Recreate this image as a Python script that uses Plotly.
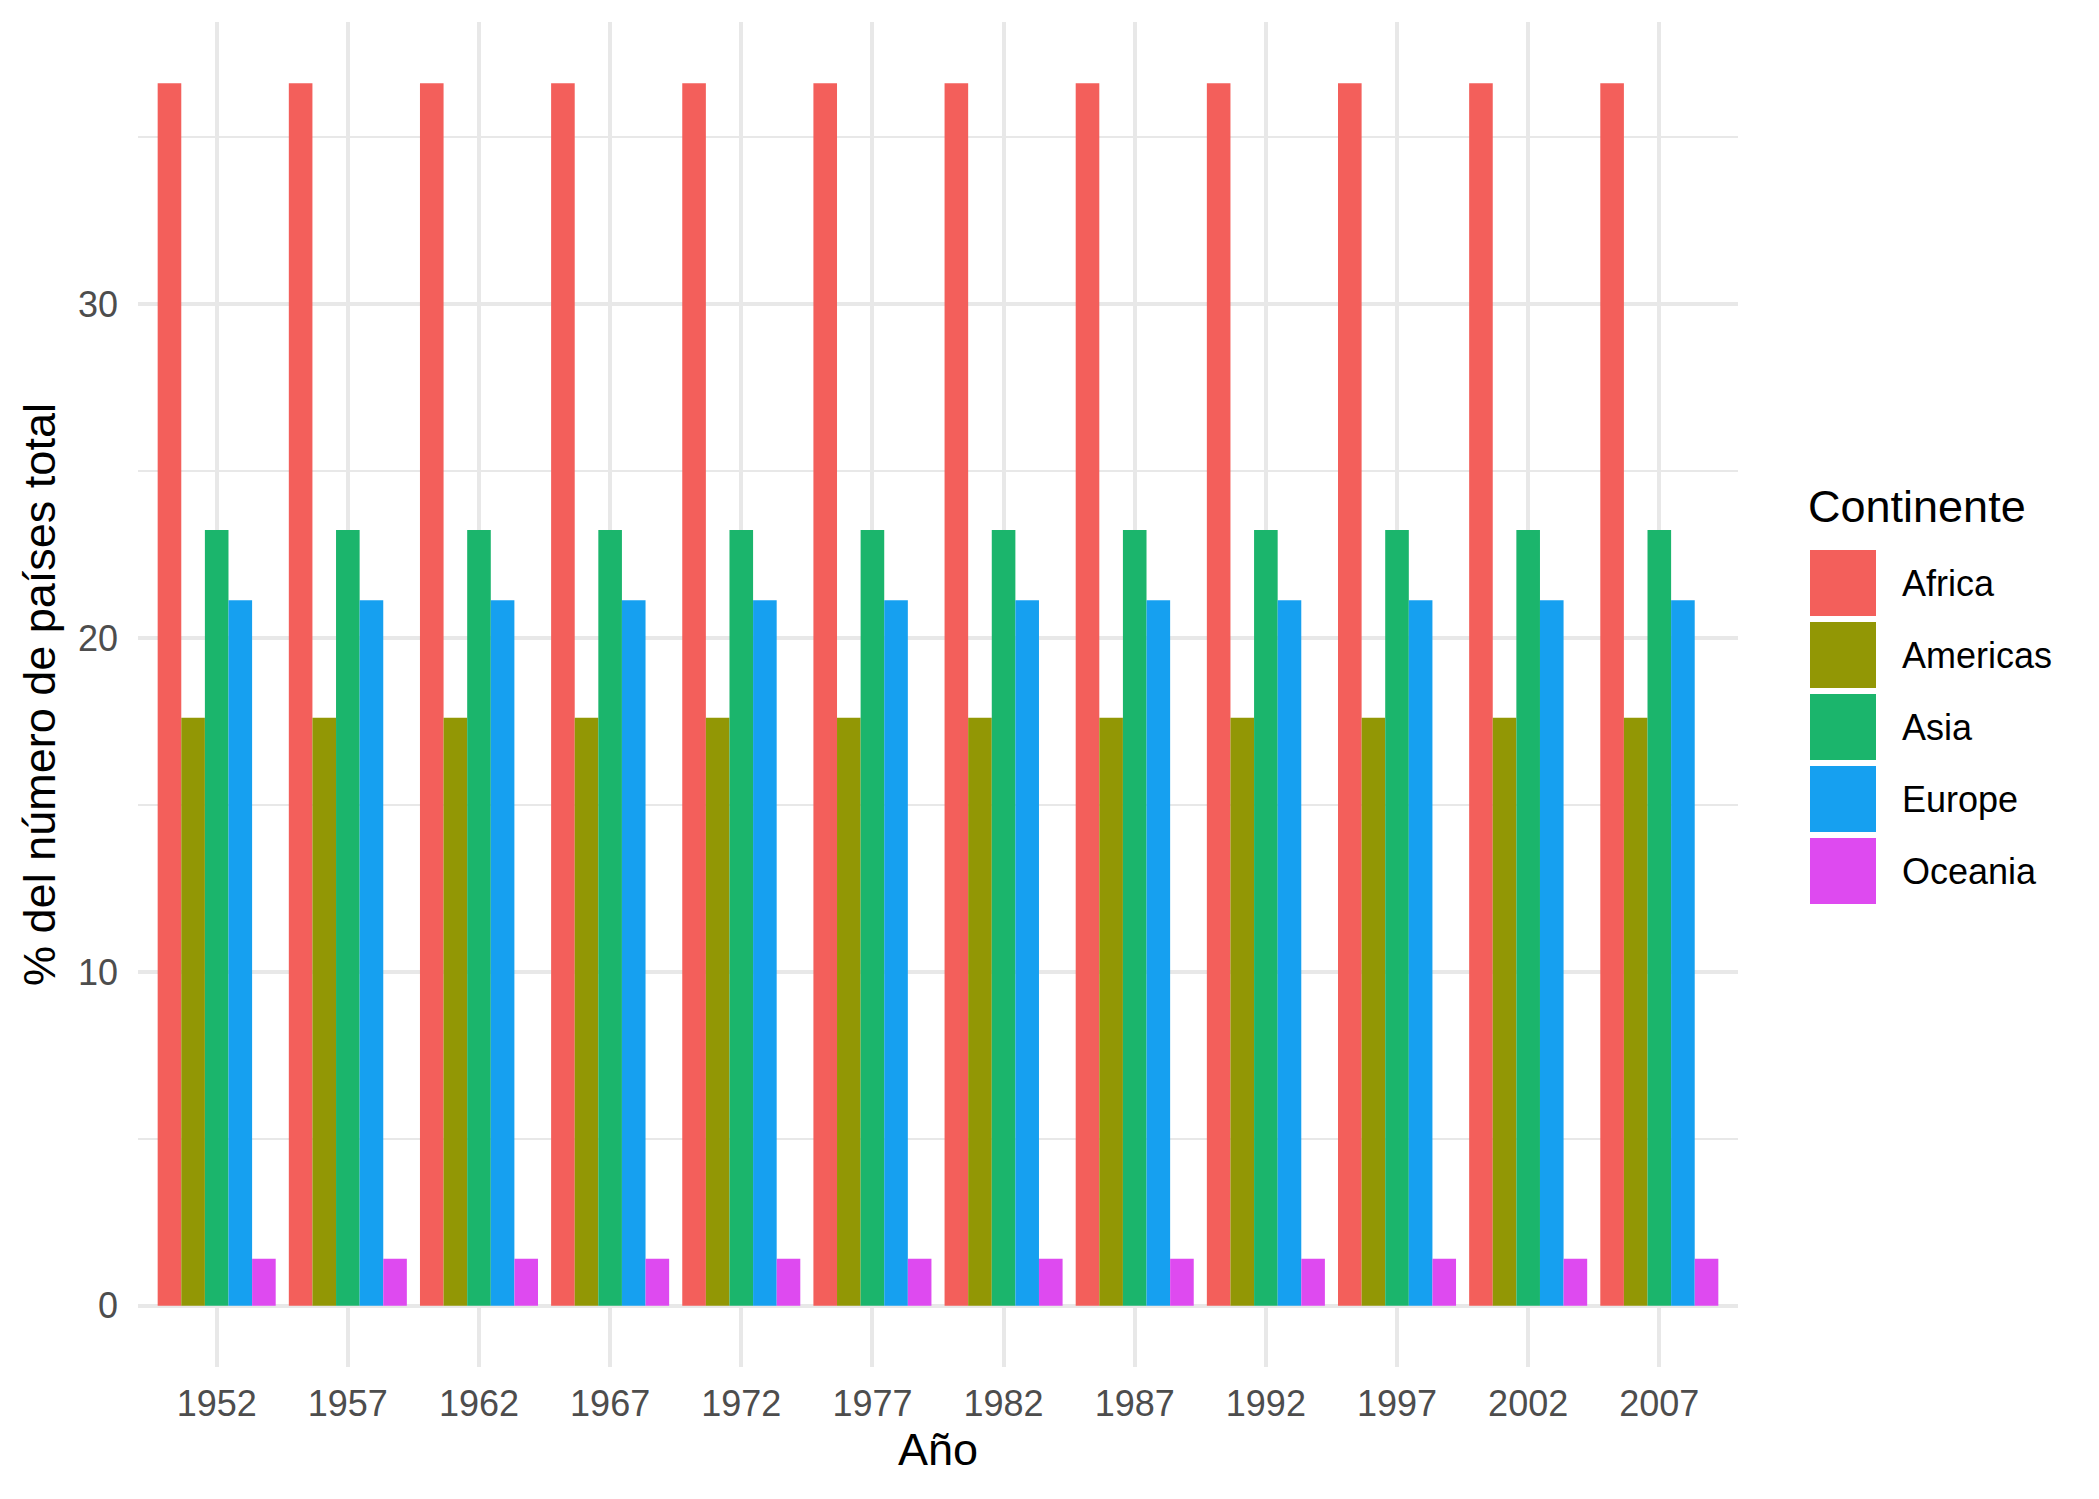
import plotly.graph_objects as go

# ---- data ----
years = ["1952", "1957", "1962", "1967", "1972", "1977", "1982", "1987", "1992", "1997", "2002", "2007"]
continents = ["Africa", "Americas", "Asia", "Europe", "Oceania"]
africa   = [36.62, 36.62, 36.62, 36.62, 36.62, 36.62, 36.62, 36.62, 36.62, 36.62, 36.62, 36.62]
americas = [17.61, 17.61, 17.61, 17.61, 17.61, 17.61, 17.61, 17.61, 17.61, 17.61, 17.61, 17.61]
asia     = [23.24, 23.24, 23.24, 23.24, 23.24, 23.24, 23.24, 23.24, 23.24, 23.24, 23.24, 23.24]
europe   = [21.13, 21.13, 21.13, 21.13, 21.13, 21.13, 21.13, 21.13, 21.13, 21.13, 21.13, 21.13]
oceania  = [1.41, 1.41, 1.41, 1.41, 1.41, 1.41, 1.41, 1.41, 1.41, 1.41, 1.41, 1.41]
series = [africa, americas, asia, europe, oceania]
y_ticks = [0, 10, 20, 30]

colors = ["#F35F5B", "#929705", "#1BB56C", "#16A0F0", "#DE4AF0"]
FONT = "Liberation Sans, Arial, Helvetica, sans-serif"
GRID = "#E8E8E8"

# ---- geometry (pixels, screen coordinates; page body adds an 8px offset) ----
OFF = 8
W, H = 2099, 1499
ml, mr, mt = 138 - OFF, 20, 22 - OFF
mb = H - (1367 - OFF)
pw, ph = W - ml - mr, H - mt - mb


def px_x(px):
    return (px - OFF - ml) / pw


def px_y(py):
    return (H - mb - (py - OFF)) / ph


fig = go.Figure()
for name, vals, col in zip(continents, series, colors):
    fig.add_trace(go.Bar(x=years, y=vals, name=name, marker=dict(color=col, line=dict(width=0)),
                         showlegend=False))

# legend drawn as its own small axis
fig.add_trace(go.Scatter(x=[0] * len(continents), y=list(range(len(continents))),
                         mode="markers", xaxis="x2", yaxis="y2", showlegend=False,
                         cliponaxis=False, hoverinfo="skip",
                         marker=dict(symbol="square", size=66, color=colors, line=dict(width=0))))

ymax = max(max(s) for s in series)
pad = ymax * 0.05

fig.update_layout(
    width=W, height=H,
    margin=dict(l=ml, r=mr, t=mt, b=mb, pad=0),
    paper_bgcolor="white", plot_bgcolor="white",
    font=dict(family=FONT, color="black"),
    barmode="group", bargap=0.1, bargroupgap=0,
    xaxis=dict(domain=[0, px_x(1738)], type="category", categoryarray=years,
               range=[-0.6, len(years) - 0.4], showgrid=True, gridcolor=GRID, gridwidth=4.3,
               showline=False, zeroline=False, ticks="",
               tickfont=dict(size=36, color="#4D4D4D", family=FONT), ticklabelstandoff=12,
               title=dict(text="Año", font=dict(size=45, color="black", family=FONT), standoff=8)),
    yaxis=dict(range=[-pad, ymax + pad], tickvals=y_ticks, showgrid=True, gridcolor=GRID,
               gridwidth=4.3, zeroline=False, showline=False, ticks="",
               minor=dict(dtick=5, tick0=0, showgrid=True, gridcolor=GRID, gridwidth=2.2),
               tickfont=dict(size=36, color="#4D4D4D", family=FONT), ticklabelstandoff=19,
               title=dict(text="% del número de países total",
                          font=dict(size=45, color="black", family=FONT), standoff=8)),
    xaxis2=dict(domain=[px_x(1800), px_x(1886)], range=[-0.5, 0.5], visible=False, fixedrange=True),
    yaxis2=dict(domain=[px_y(907), px_y(547)], range=[len(continents) - 0.5, -0.5],
                visible=False, anchor="x2", fixedrange=True),
)

annotations = [dict(text="Continente", xref="paper", yref="paper", x=px_x(1806), y=px_y(506),
                    xanchor="left", yanchor="middle", showarrow=False,
                    font=dict(size=45, color="black", family=FONT))]
for i, name in enumerate(continents):
    annotations.append(dict(text=name, xref="paper", yref="y2", x=px_x(1900), y=i,
                            xanchor="left", yanchor="middle", showarrow=False,
                            font=dict(size=36, color="black", family=FONT)))
fig.update_layout(annotations=annotations)

fig.write_html("out.html")
